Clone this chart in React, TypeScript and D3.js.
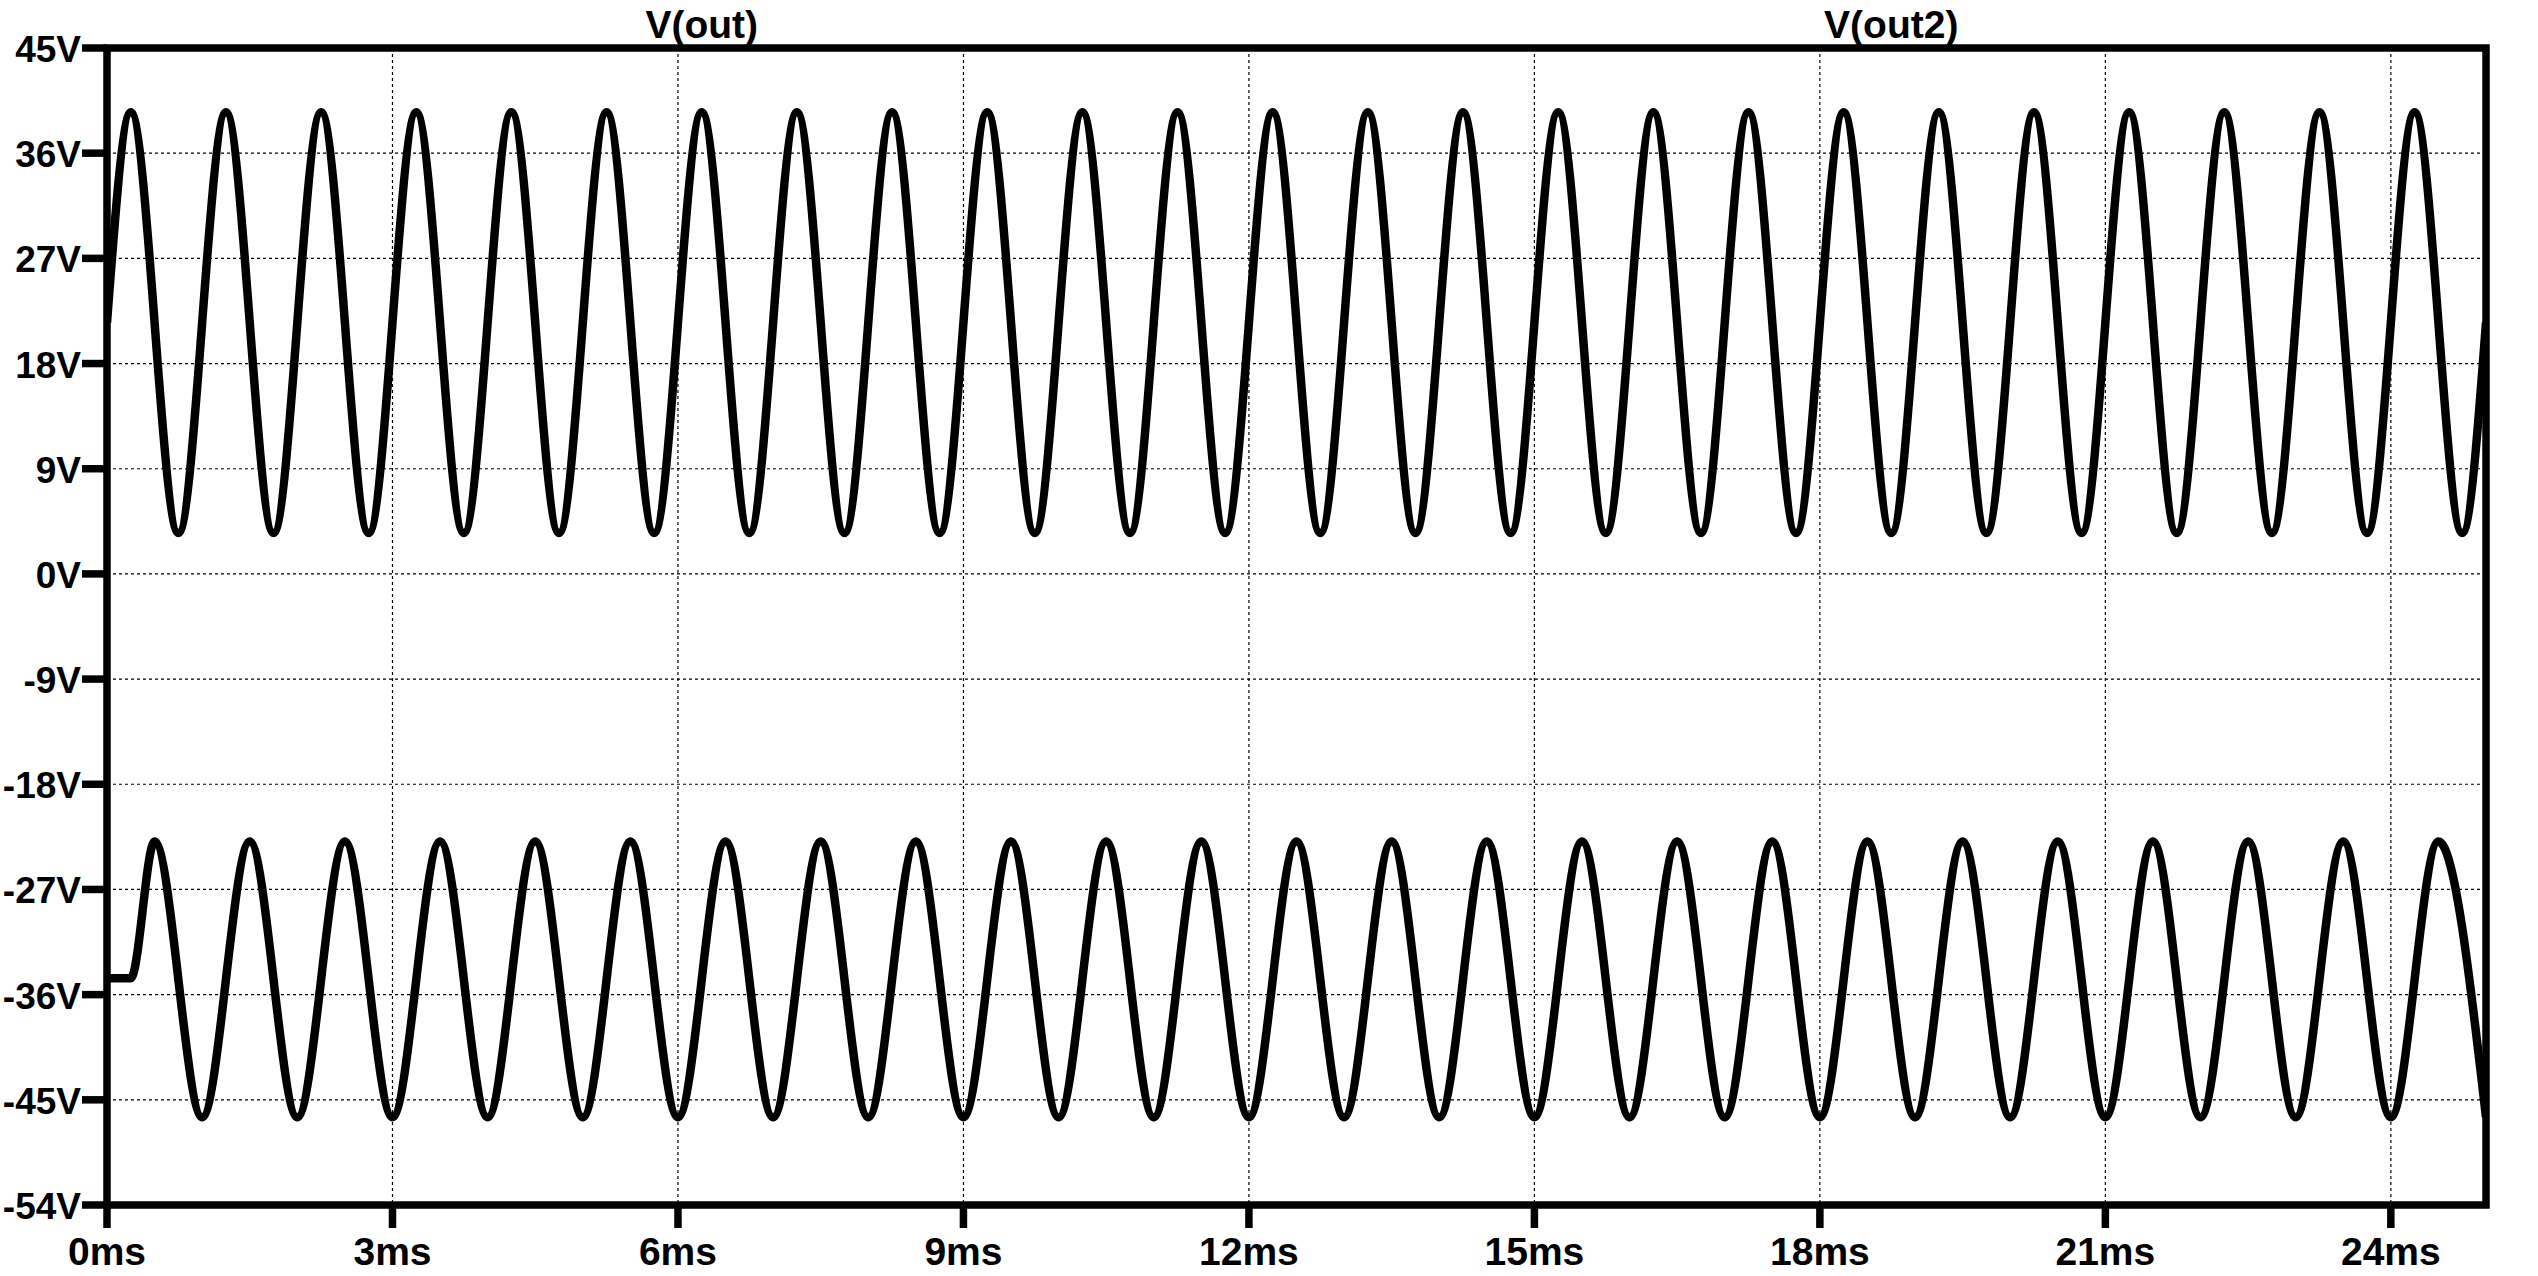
import { curveMonotoneX, line, scaleLinear } from 'd3';

// LTspice-style transient plot: two 1 kHz sine traces on one pane.
// Traces are listed as their turning points and drawn
// with a monotone curve, which gives the smooth sine-like shape between them.

const outTimeMs = [
  0, 0.25, 0.75, 1.25, 1.75, 2.25, 2.75, 3.25, 3.75, 4.25, 4.75, 5.25, 5.75, 6.25, 6.75, 7.25, 7.75, 8.25, 8.75,
  9.25, 9.75, 10.25, 10.75, 11.25, 11.75, 12.25, 12.75, 13.25, 13.75, 14.25, 14.75, 15.25, 15.75, 16.25, 16.75,
  17.25, 17.75, 18.25, 18.75, 19.25, 19.75, 20.25, 20.75, 21.25, 21.75, 22.25, 22.75, 23.25, 23.75, 24.25, 24.75, 25,
];
const outVolts = [
  21.5, 39.5, 3.5, 39.5, 3.5, 39.5, 3.5, 39.5, 3.5, 39.5, 3.5, 39.5, 3.5, 39.5, 3.5, 39.5, 3.5, 39.5, 3.5,
  39.5, 3.5, 39.5, 3.5, 39.5, 3.5, 39.5, 3.5, 39.5, 3.5, 39.5, 3.5, 39.5, 3.5, 39.5, 3.5,
  39.5, 3.5, 39.5, 3.5, 39.5, 3.5, 39.5, 3.5, 39.5, 3.5, 39.5, 3.5, 39.5, 3.5, 39.5, 3.5, 21.5,
];

const out2TimeMs = [
  0, 0.25, 0.5, 1, 1.5, 2, 2.5, 3, 3.5, 4, 4.5, 5, 5.5, 6, 6.5, 7, 7.5, 8, 8.5, 9, 9.5, 10, 10.5, 11, 11.5, 12,
  12.5, 13, 13.5, 14, 14.5, 15, 15.5, 16, 16.5, 17, 17.5, 18, 18.5, 19, 19.5, 20, 20.5, 21, 21.5, 22, 22.5, 23,
  23.5, 24, 24.5, 25,
];
const out2Volts = [
  -34.6, -34.6, -22.9, -46.5, -22.9, -46.5, -22.9, -46.5, -22.9, -46.5, -22.9, -46.5, -22.9, -46.5, -22.9, -46.5,
  -22.9, -46.5, -22.9, -46.5, -22.9, -46.5, -22.9, -46.5, -22.9, -46.5, -22.9, -46.5, -22.9, -46.5, -22.9, -46.5,
  -22.9, -46.5, -22.9, -46.5, -22.9, -46.5, -22.9, -46.5, -22.9, -46.5, -22.9, -46.5, -22.9, -46.5, -22.9, -46.5,
  -22.9, -46.5, -22.9, -46.5,
];

const traceNames = ['V(out)', 'V(out2)'];
const yTicks = [-54, -45, -36, -27, -18, -9, 0, 9, 18, 27, 36, 45];
const xTicks = [0, 3, 6, 9, 12, 15, 18, 21, 24];

const W = 2538;
const H = 1276;
const FONT = '"Liberation Sans", Arial, sans-serif';

export default function App() {
  const m = { left: 107, right: 2486, top: 48, bottom: 1205 };
  const xs = scaleLinear().domain([0, 25]).range([m.left, m.right]);
  const ys = scaleLinear().domain([-54, 45]).range([m.bottom, m.top]);

  const ln = line<[number, number]>()
    .x((d) => xs(d[0]))
    .y((d) => ys(d[1]))
    .curve(curveMonotoneX);

  const traces = [
    outTimeMs.map((t, i) => [t, outVolts[i]!] as [number, number]),
    out2TimeMs.map((t, i) => [t, out2Volts[i]!] as [number, number]),
  ];

  return (
    <svg
      width={W}
      height={H}
      viewBox={`0 0 ${W} ${H}`}
      style={{ position: 'absolute', left: 0, top: 0, background: '#fff', display: 'block' }}
    >
      <rect x={0} y={0} width={W} height={H} fill="#fff" />
      <defs>
        <clipPath id="plot">
          <rect x={m.left} y={m.top} width={m.right - m.left} height={m.bottom - m.top} />
        </clipPath>
      </defs>

      {/* grid */}
      {yTicks.slice(1, -1).map((v) => (
        <line key={`gy${v}`} x1={m.left} x2={m.right} y1={ys(v)} y2={ys(v)} stroke="#000" strokeWidth={1.2} strokeDasharray="3,3" />
      ))}
      {xTicks.slice(1).map((t) => (
        <line key={`gx${t}`} x1={xs(t)} x2={xs(t)} y1={m.top} y2={m.bottom} stroke="#000" strokeWidth={1.2} strokeDasharray="3,3" />
      ))}

      {/* traces */}
      <g clipPath="url(#plot)">
        {traces.map((d, i) => (
          <path key={i} d={ln(d) ?? undefined} fill="none" stroke="#000" strokeWidth={8.5} strokeLinejoin="round" />
        ))}
      </g>

      {/* frame */}
      <rect x={m.left} y={m.top} width={m.right - m.left} height={m.bottom - m.top} fill="none" stroke="#000" strokeWidth={7.5} />

      {/* y axis */}
      {yTicks.map((v) => (
        <g key={`y${v}`}>
          <line x1={m.left - 25} x2={m.left} y1={ys(v)} y2={ys(v)} stroke="#000" strokeWidth={7.5} />
          <text x={m.left - 26} y={ys(v) + 14} textAnchor="end" fill="#000" style={{ fontFamily: FONT, fontWeight: 700, fontSize: 37 }}>
            {v}V
          </text>
        </g>
      ))}

      {/* x axis */}
      {xTicks.map((t) => (
        <g key={`x${t}`}>
          <line x1={xs(t)} x2={xs(t)} y1={m.bottom} y2={m.bottom + 23} stroke="#000" strokeWidth={7.5} />
          <text x={xs(t)} y={m.bottom + 60} textAnchor="middle" fill="#000" style={{ fontFamily: FONT, fontWeight: 700, fontSize: 39 }}>
            {t}ms
          </text>
        </g>
      ))}

      {/* trace names */}
      {traceNames.map((name, i) => (
        <text
          key={name}
          x={m.left + ((m.right - m.left) * (2 * i + 1)) / 4}
          y={38}
          textAnchor="middle"
          fill="#000"
          style={{ fontFamily: FONT, fontWeight: 700, fontSize: 39 }}
        >
          {name}
        </text>
      ))}
    </svg>
  );
}
